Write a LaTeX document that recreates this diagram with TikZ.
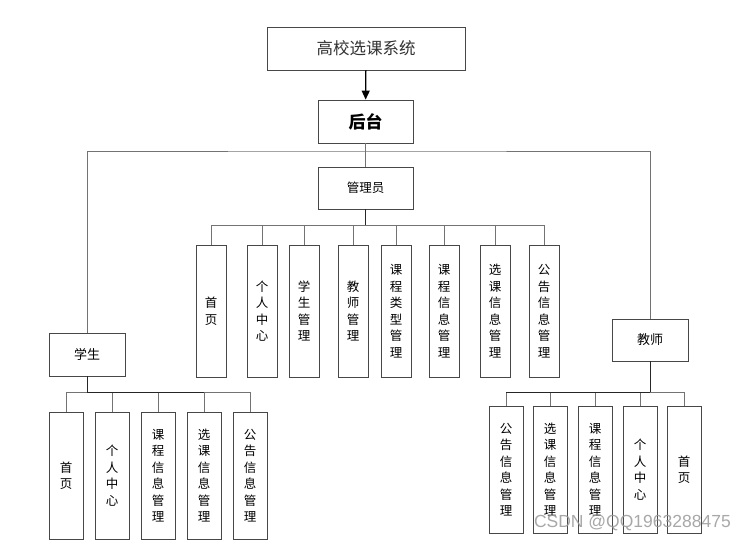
\documentclass[tikz,border=0pt]{standalone}
\usepackage{fontspec}
\newfontfamily\cjk{Noto Sans CJK SC}
\newfontfamily\wmfont{Liberation Sans}
\usetikzlibrary{arrows.meta,shadows}
\begin{document}
\begin{tikzpicture}[x=1pt,y=-1pt,
  box/.style={draw=black!72, line width=0.8pt, fill=white, inner sep=0pt,
    drop shadow={shadow xshift=1.2pt, shadow yshift=-1.2pt, fill=blue!30!black!15, opacity=0.6}},
  vbox/.style={box, align=center, font=\cjk\fontsize{12.5}{16.5}\selectfont},
  stub/.style={draw=black!55, line width=0.8pt},
  trunk/.style={draw=black!85, line width=1pt},
]
\useasboundingbox (0,0) rectangle (744,542);
% top
\node[box, minimum width=198pt, minimum height=43pt, font=\cjk\fontsize{16.5}{18}\selectfont, text=black!80] (sys) at (366,48.5) {高校选课系统};
\node[box, minimum width=95pt, minimum height=43pt, font=\cjk\fontsize{17}{18}\selectfont\bfseries] (ht) at (365.5,121.5) {后台};
\node[box, minimum width=95pt, minimum height=42pt, font=\cjk\fontsize{12.5}{14}\selectfont] (glr) at (365.5,188) {管理员};
\node[box, minimum width=76pt, minimum height=43pt, font=\cjk\fontsize{13}{14}\selectfont] (xs) at (87,354.5) {学生};
\node[box, minimum width=76pt, minimum height=42pt, font=\cjk\fontsize{13}{14}\selectfont] (js) at (650,340) {教师};
% admin children
\foreach \n/\x/\t in {a1/211/首\\页, a2/262/个\\人\\中\\心, a3/304/学\\生\\管\\理, a4/353/教\\师\\管\\理, a5/396/课\\程\\类\\型\\管\\理, a6/444/课\\程\\信\\息\\管\\理, a7/495/选\\课\\信\\息\\管\\理, a8/544/公\\告\\信\\息\\管\\理}
  \node[vbox, minimum width=30pt, minimum height=132pt] (\n) at (\x,311) {\t};
% student children
\foreach \n/\x/\t in {s1/66/首\\页, s2/112/个\\人\\中\\心, s3/158/课\\程\\信\\息\\管\\理, s4/204/选\\课\\信\\息\\管\\理, s5/250/公\\告\\信\\息\\管\\理}
  \node[vbox, minimum width=34pt, minimum height=127pt] (\n) at (\x,475.5) {\t};
% teacher children
\foreach \n/\x/\t in {t1/506/公\\告\\信\\息\\管\\理, t2/550/选\\课\\信\\息\\管\\理, t3/595/课\\程\\信\\息\\管\\理, t4/640/个\\人\\中\\心, t5/684/首\\页}
  \node[vbox, minimum width=34pt, minimum height=127pt] (\n) at (\x,469.5) {\t};
% connectors
\draw[-{Triangle[length=9pt,width=8pt]}, line width=1.3pt, black] (sys) -- (ht);
\coordinate (hb) at (365.5,151);
\draw[stub] (ht) -- (glr);
\draw[stub] (xs.north) |- (hb) -| (js.north);
% admin bus
\coordinate (ab) at (365.5,225);
\draw[trunk] (glr.south) -- (ab);
\foreach \n in {a1,a2,a3,a4,a5,a6,a7,a8}
  \draw[stub] (ab) -| (\n.north);
% student bus
\coordinate (sb) at (87,392);
\draw[trunk] (xs.south) -- (sb);
\foreach \n in {s1,s2,s3,s4,s5}
  \draw[stub] (sb) -| (\n.north);
\draw[trunk] (sb) -- (204,392);
% teacher bus
\coordinate (tb) at (650,392);
\draw[trunk] (js.south) -- (tb);
\foreach \n in {t1,t2,t3,t4,t5}
  \draw[stub] (tb) -| (\n.north);
\draw[trunk] (tb) -- (506,392);
% watermark
\node[anchor=east, font=\wmfont\fontsize{17.5}{18}\selectfont, text=black!40, opacity=0.85, inner sep=0pt] (wm) at (731,523) {CSDN @QQ1963288475};
\end{tikzpicture}
\end{document}
